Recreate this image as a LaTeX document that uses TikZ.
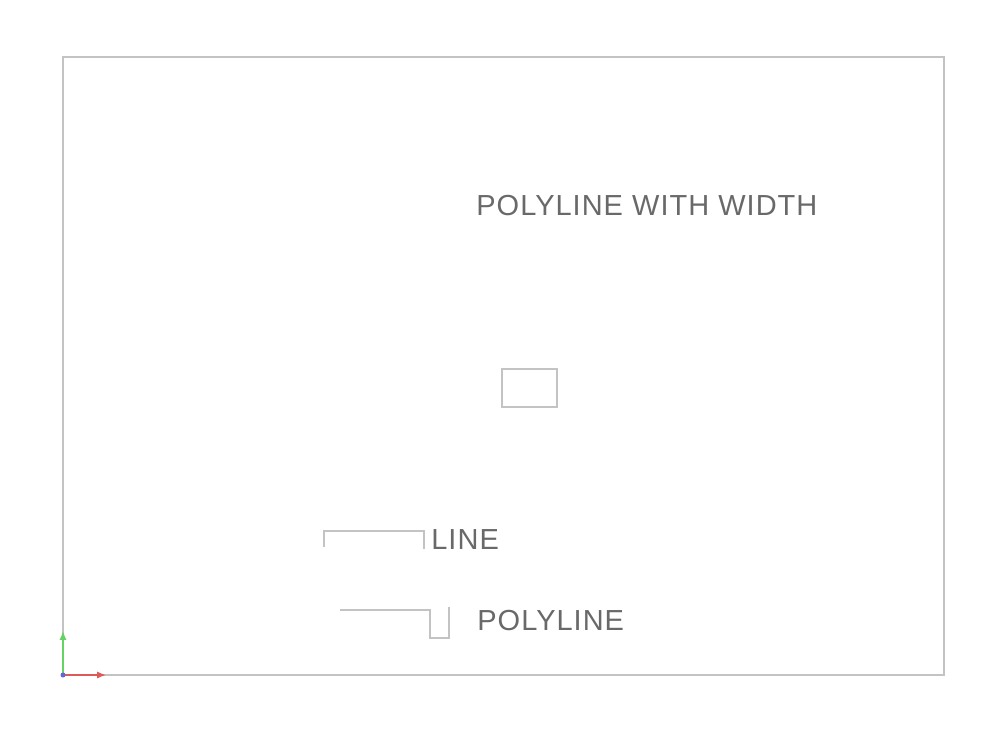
\documentclass[tikz,border=0pt]{standalone}
\usepackage{fontspec}
\setmainfont{Liberation Sans}[LetterSpace=3.5]
\usetikzlibrary{arrows.meta}
\definecolor{framegray}{RGB}{195,195,195}
\definecolor{txtgray}{RGB}{105,105,105}
\definecolor{axred}{RGB}{220,90,90}
\definecolor{axgreen}{RGB}{100,210,100}
\definecolor{axblue}{RGB}{100,100,220}
\tikzset{
  cadline/.style={draw=framegray, line width=0.6pt},
  label/.style={anchor=base west, inner sep=0pt, text=txtgray, font=\fontsize{16.5}{18}\selectfont},
}
\begin{document}
\begin{tikzpicture}[x=0.02cm, y=-0.02cm]
\useasboundingbox (0,0) rectangle (1000,730);
% frame
\draw[cadline] (63,57) rectangle (944,675);
% rectangle
\draw[cadline] (502,369) rectangle (557,407);
% LINE shape
\draw[cadline] (324,547) -- (324,531) -- (424,531) -- (424,549);
% POLYLINE shape
\draw[cadline] (340,610) -- (430,610) -- (430,638) -- (449,638) -- (449,607);
% labels
\node[label] (tw) at (476,215) {POLYLINE WITH WIDTH};
\node[label] (tl) at (431,549) {LINE};
\node[label] (tp) at (477,630) {POLYLINE};
% axes
\coordinate (o) at (63,675);
\coordinate (xa) at (106,675);
\coordinate (ya) at (63,631);
\draw[axred, line width=0.8pt, -{Latex[length=5pt,width=4pt]}] (o) -- (xa);
\draw[axgreen, line width=0.8pt, -{Latex[length=5pt,width=4pt]}] (o) -- (ya);
\fill[axblue] (o) circle (2.5);
\end{tikzpicture}
\end{document}
